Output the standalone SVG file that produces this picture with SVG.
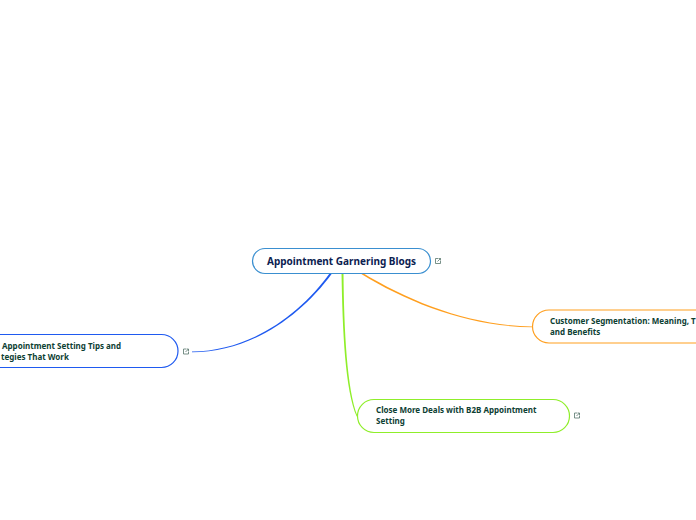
<svg xmlns="http://www.w3.org/2000/svg" width="696" height="520" viewBox="0 0 696 520">
<style>
text{font-family:"Noto Sans","Open Sans",sans-serif;font-weight:700;fill:#0d4033}
.t{font-size:8px}
.r{font-size:10px;fill:#0b2150}
.n{fill:#fff;stroke-width:1.2}
.i{fill:none;stroke:#55756b;stroke-width:.8}
</style>
<rect width="696" height="520" fill="#fff"/>
<g id="connectors">
<path d="M330.200 272.500C300 315 250 351 192 351.500V352.300C251 352 301 316 332 273.500Z" fill="#1f5af0"/>
<path d="M341.500 273C342.500 330 345 390 356.700 416.500L357.500 416C347 390 344 330 343.500 273Z" fill="#8fee2a"/>
<path d="M360.500 273.500C410 304 470 326.500 532 327.300V326.500C471 325.500 411 302.500 362 272.500Z" fill="#ff9f1f"/>
</g>
<g id="root">
<rect class="n" x="252.500" y="248.500" width="178" height="25" rx="12.500" stroke="#3a8fd0"/>
<text class="r" x="267" y="265">Appointment Garnering Blogs</text>
<path class="i" d="M438 258.500H435.500V263.500H440.500V261M437.500 261.500L440.500 258.500M438.500 258.500H440.500V260.500"/>
</g>
<g id="node-left">
<rect class="n" x="-40" y="334.500" width="218" height="33" rx="16.500" stroke="#1f5af0"/>
<text class="t" x="2" y="349">Appointment Setting Tips and</text>
<text class="t" x="1" y="360">tegies That Work</text>
<path class="i" d="M186 349H183.500V354H188.500V351.500M185.500 352L188.500 349M186.500 349H188.500V351"/>
</g>
<g id="node-bottom">
<rect class="n" x="357.500" y="399.500" width="212" height="33" rx="16.500" stroke="#8fee2a"/>
<text class="t" x="376" y="413">Close More Deals with B2B Appointment</text>
<text class="t" x="376" y="424">Setting</text>
<path class="i" d="M577 413H574.500V418H579.500V415.500M576.500 416L579.500 413M577.500 413H579.500V415"/>
</g>
<g id="node-right">
<rect class="n" x="532.500" y="310" width="200" height="33" rx="16.500" stroke="#ff9f1f"/>
<text class="t" x="550" y="324">Customer Segmentation: Meaning, T</text>
<text class="t" x="550" y="335">and Benefits</text>
</g>
</svg>
